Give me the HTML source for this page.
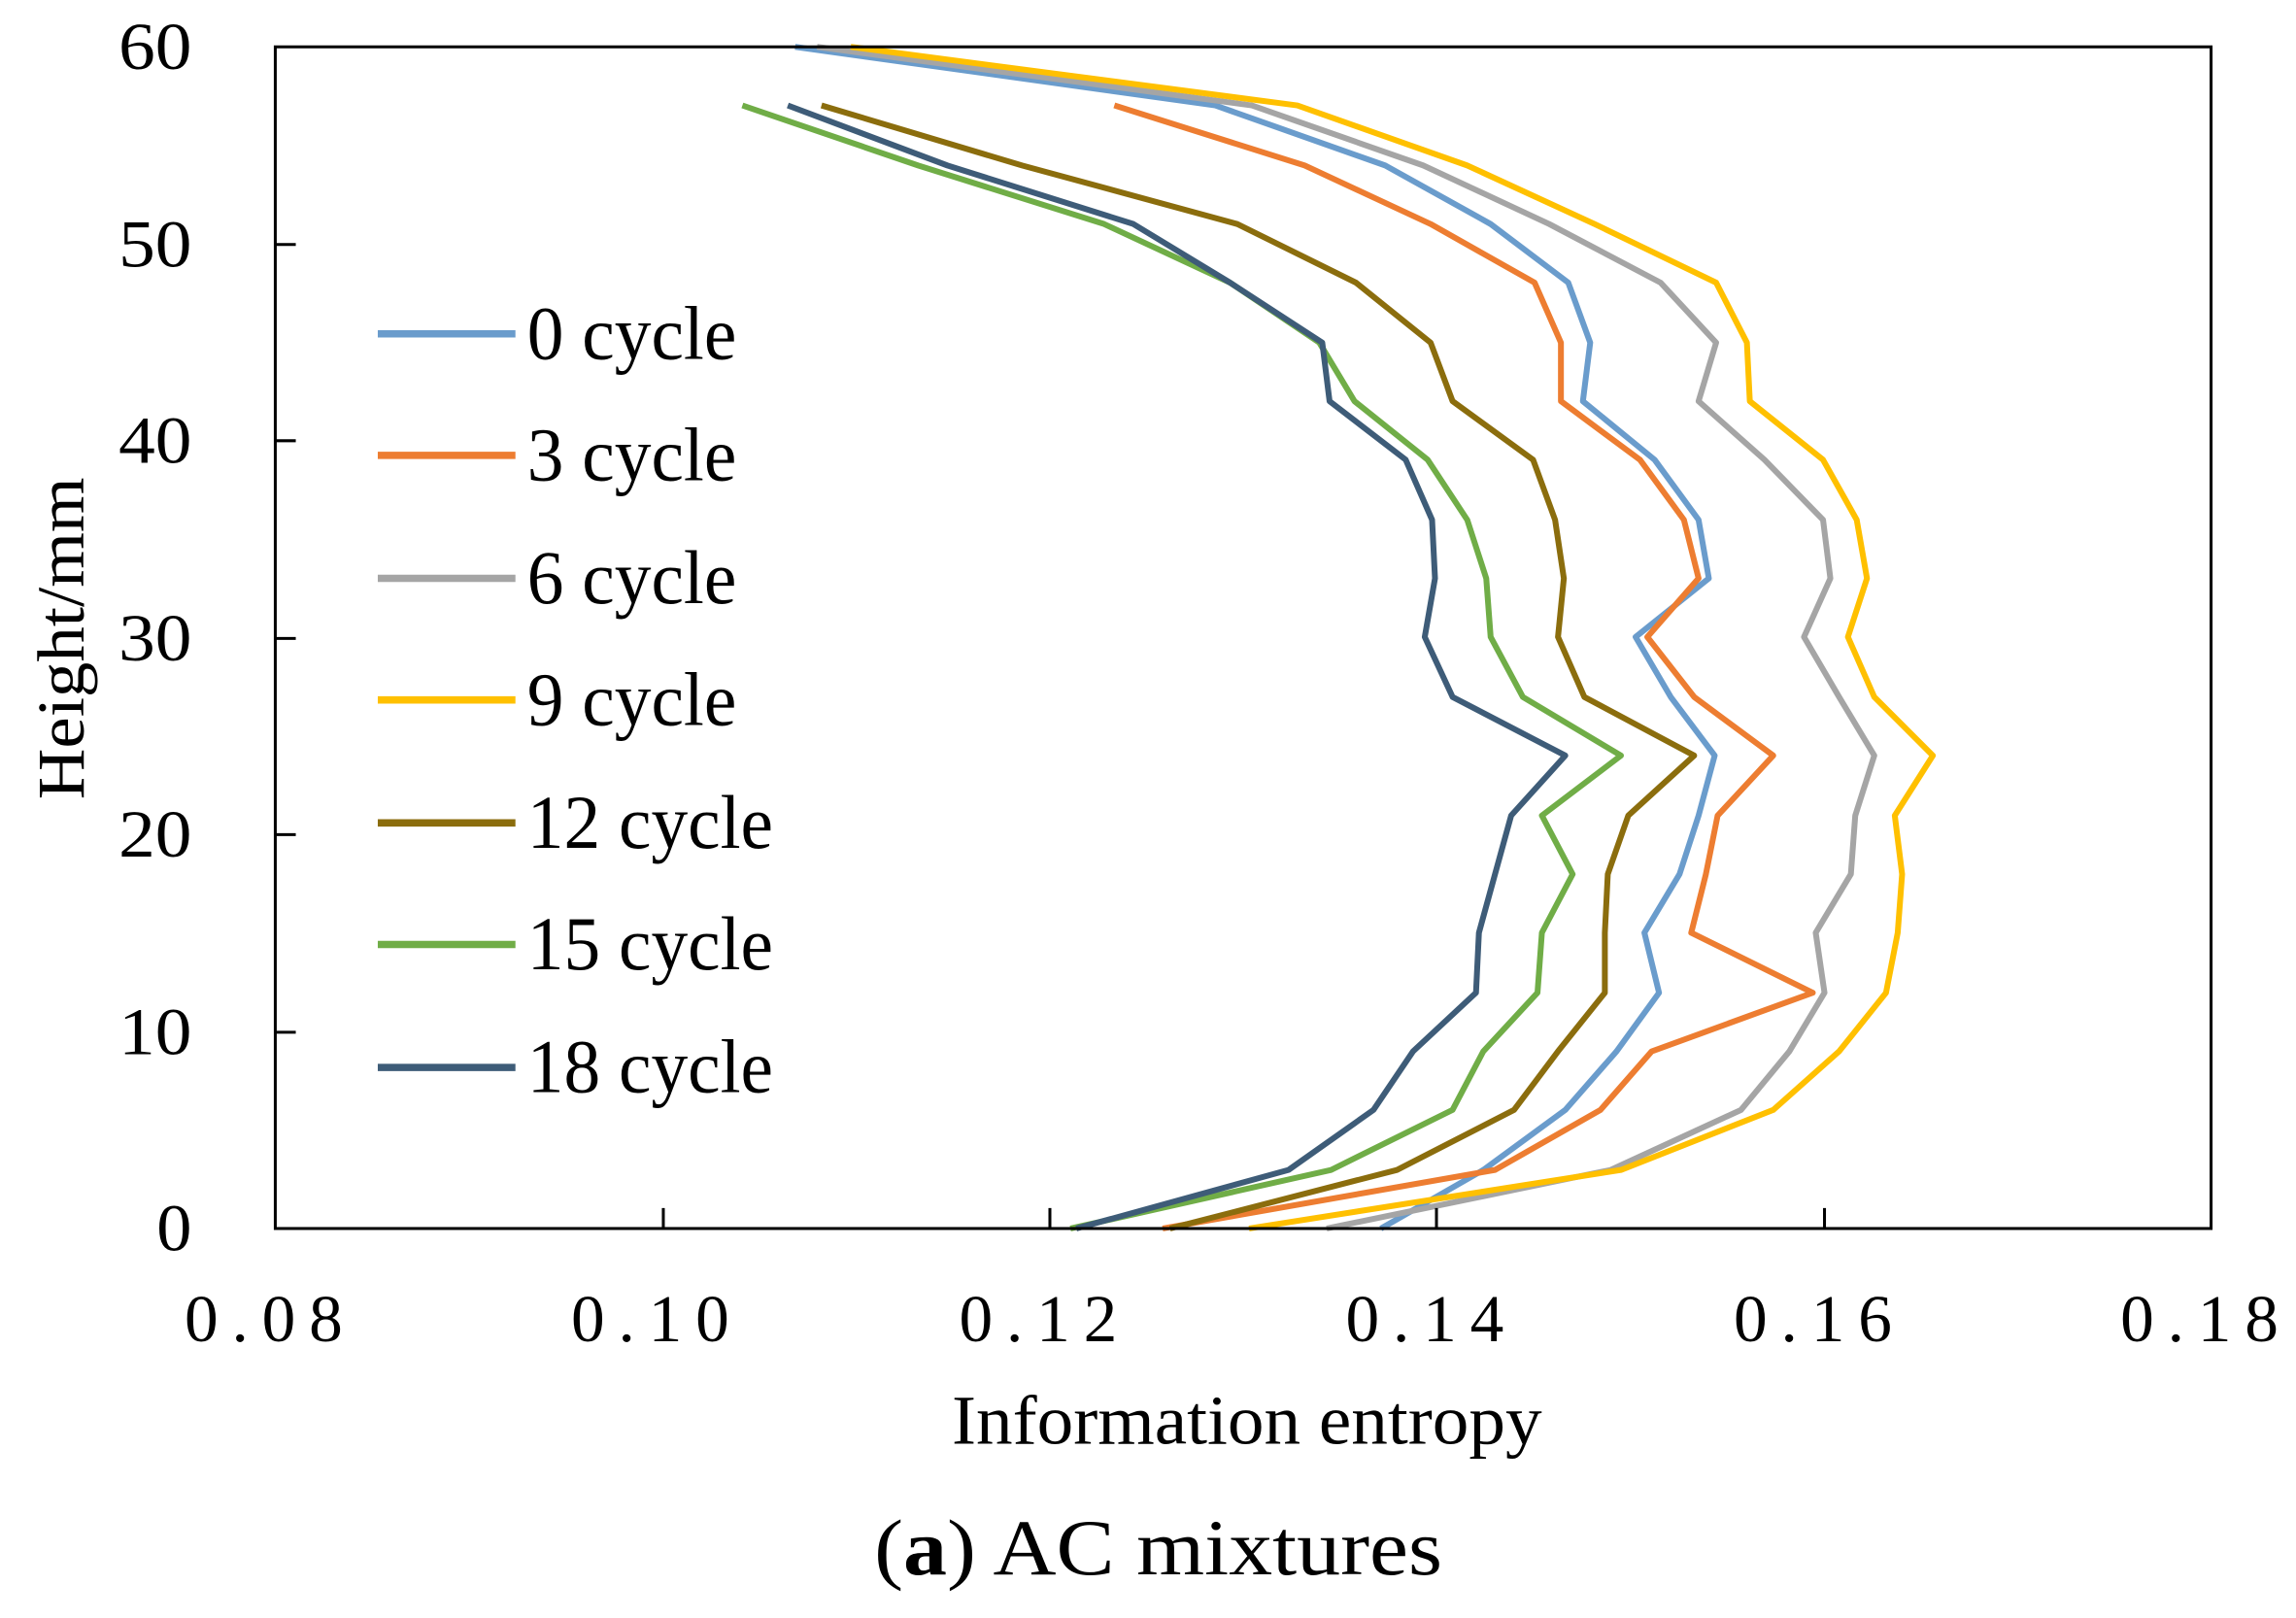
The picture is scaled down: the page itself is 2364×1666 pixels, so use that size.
<!DOCTYPE html>
<html><head><meta charset="utf-8"><style>html,body{margin:0;padding:0;background:#fff}svg{display:block}</style></head><body>
<svg width="2364" height="1666" viewBox="0 0 1568 1105" preserveAspectRatio="none" xmlns="http://www.w3.org/2000/svg" font-family="Liberation Serif, serif">
<rect width="1568" height="1105" fill="#fff"/>
<g fill="none" stroke-width="4" stroke-linejoin="round">
<polyline stroke="#6a9ccc" points="943,839 1013,799 1069,758 1104,718 1133,678 1123,637 1147,597 1160,557 1171,516 1141,476 1117,435 1167,395 1160,355 1130,314 1081,274 1086,234 1071,193 1018,153 946,113 830,72 543,32"/>
<polyline stroke="#ed7d31" points="794,839 1021,799 1093,758 1128,718 1238,678 1155,637 1165,597 1173,557 1211,516 1157,476 1125,435 1160,395 1150,355 1120,314 1066,274 1066,234 1048,193 977,153 891,113 761,72"/>
<polyline stroke="#a5a5a5" points="906,839 1100,799 1189,758 1222,718 1246,678 1240,637 1264,597 1267,557 1280,516 1256,476 1232,435 1250,395 1245,355 1205,314 1160,274 1172,234 1134,193 1058,153 972,113 855,72 558,32"/>
<polyline stroke="#ffc000" points="853,839 1107,799 1211,758 1256,718 1288,678 1296,637 1299,597 1294,557 1320,516 1280,476 1262,435 1275,395 1268,355 1245,314 1195,274 1193,234 1172,193 1089,153 1002,113 886,72 581,32"/>
<polyline stroke="#8b6d0d" points="799,839 954,799 1034,758 1064,718 1096,678 1096,637 1098,597 1112,557 1157,516 1082,476 1064,435 1068,395 1062,355 1047,314 992,274 977,234 926,193 845,153 698,113 561,72"/>
<polyline stroke="#70ad47" points="731,839 909,799 992,758 1013,718 1050,678 1053,637 1074,597 1053,557 1107,516 1040,476 1018,435 1015,395 1002,355 975,314 925,274 901,234 840,193 754,153 627,113 507,72"/>
<polyline stroke="#3e5c78" points="735,839 880,799 938,758 965,718 1008,678 1010,637 1021,597 1032,557 1069,516 992,476 973,435 980,395 978,355 960,314 908,274 903,234 840,193 774,153 647,113 538,72"/>
</g>
<g stroke="#000" stroke-width="2" fill="none">
<rect x="188" y="32" width="1322" height="807"/>
<path d="M188 167h14M188 301h14M188 436h14M188 570h14M188 705h14M453 839v-14M717 839v-14M981 839v-14M1246 839v-14"/>
</g>
<g font-size="46" text-anchor="end" lengthAdjust="spacingAndGlyphs">
<text x="131" y="47" textLength="50" lengthAdjust="spacingAndGlyphs">60</text><text x="131" y="182" textLength="50" lengthAdjust="spacingAndGlyphs">50</text><text x="131" y="316" textLength="50" lengthAdjust="spacingAndGlyphs">40</text><text x="131" y="451" textLength="50" lengthAdjust="spacingAndGlyphs">30</text><text x="131" y="585" textLength="50" lengthAdjust="spacingAndGlyphs">20</text><text x="131" y="720" textLength="50" lengthAdjust="spacingAndGlyphs">10</text><text x="131" y="854" textLength="24" lengthAdjust="spacingAndGlyphs">0</text>
</g>
<g font-size="46">
<text x="126" y="916" textLength="108" lengthAdjust="spacing">0.08</text><text x="390" y="916" textLength="108" lengthAdjust="spacing">0.10</text><text x="655" y="916" textLength="108" lengthAdjust="spacing">0.12</text><text x="919" y="916" textLength="108" lengthAdjust="spacing">0.14</text><text x="1184" y="916" textLength="108" lengthAdjust="spacing">0.16</text><text x="1448" y="916" textLength="108" lengthAdjust="spacing">0.18</text>
</g>
<text x="650" y="986" font-size="48" textLength="403" lengthAdjust="spacingAndGlyphs">Information  entropy</text>
<text transform="translate(57,436) rotate(-90)" font-size="46" text-anchor="middle" textLength="220" lengthAdjust="spacingAndGlyphs">Height/mm</text>
<text x="597" y="1075" font-size="54" textLength="388" lengthAdjust="spacingAndGlyphs">(<tspan font-weight="bold">a</tspan>) AC mixtures</text>
<g stroke-width="5">
<line x1="258" y1="228" x2="352" y2="228" stroke="#6a9ccc"/>
<line x1="258" y1="311" x2="352" y2="311" stroke="#ed7d31"/>
<line x1="258" y1="395" x2="352" y2="395" stroke="#a5a5a5"/>
<line x1="258" y1="478" x2="352" y2="478" stroke="#ffc000"/>
<line x1="258" y1="562" x2="352" y2="562" stroke="#8b6d0d"/>
<line x1="258" y1="645" x2="352" y2="645" stroke="#70ad47"/>
<line x1="258" y1="729" x2="352" y2="729" stroke="#3e5c78"/>
</g>
<g font-size="52">
<text x="360" y="245" textLength="143" lengthAdjust="spacingAndGlyphs">0 cycle</text><text x="360" y="328" textLength="143" lengthAdjust="spacingAndGlyphs">3 cycle</text><text x="360" y="412" textLength="143" lengthAdjust="spacingAndGlyphs">6 cycle</text><text x="360" y="495" textLength="143" lengthAdjust="spacingAndGlyphs">9 cycle</text><text x="360" y="579" textLength="168" lengthAdjust="spacingAndGlyphs">12 cycle</text><text x="360" y="662" textLength="168" lengthAdjust="spacingAndGlyphs">15 cycle</text><text x="360" y="746" textLength="168" lengthAdjust="spacingAndGlyphs">18 cycle</text>
</g>
</svg>
</body></html>
